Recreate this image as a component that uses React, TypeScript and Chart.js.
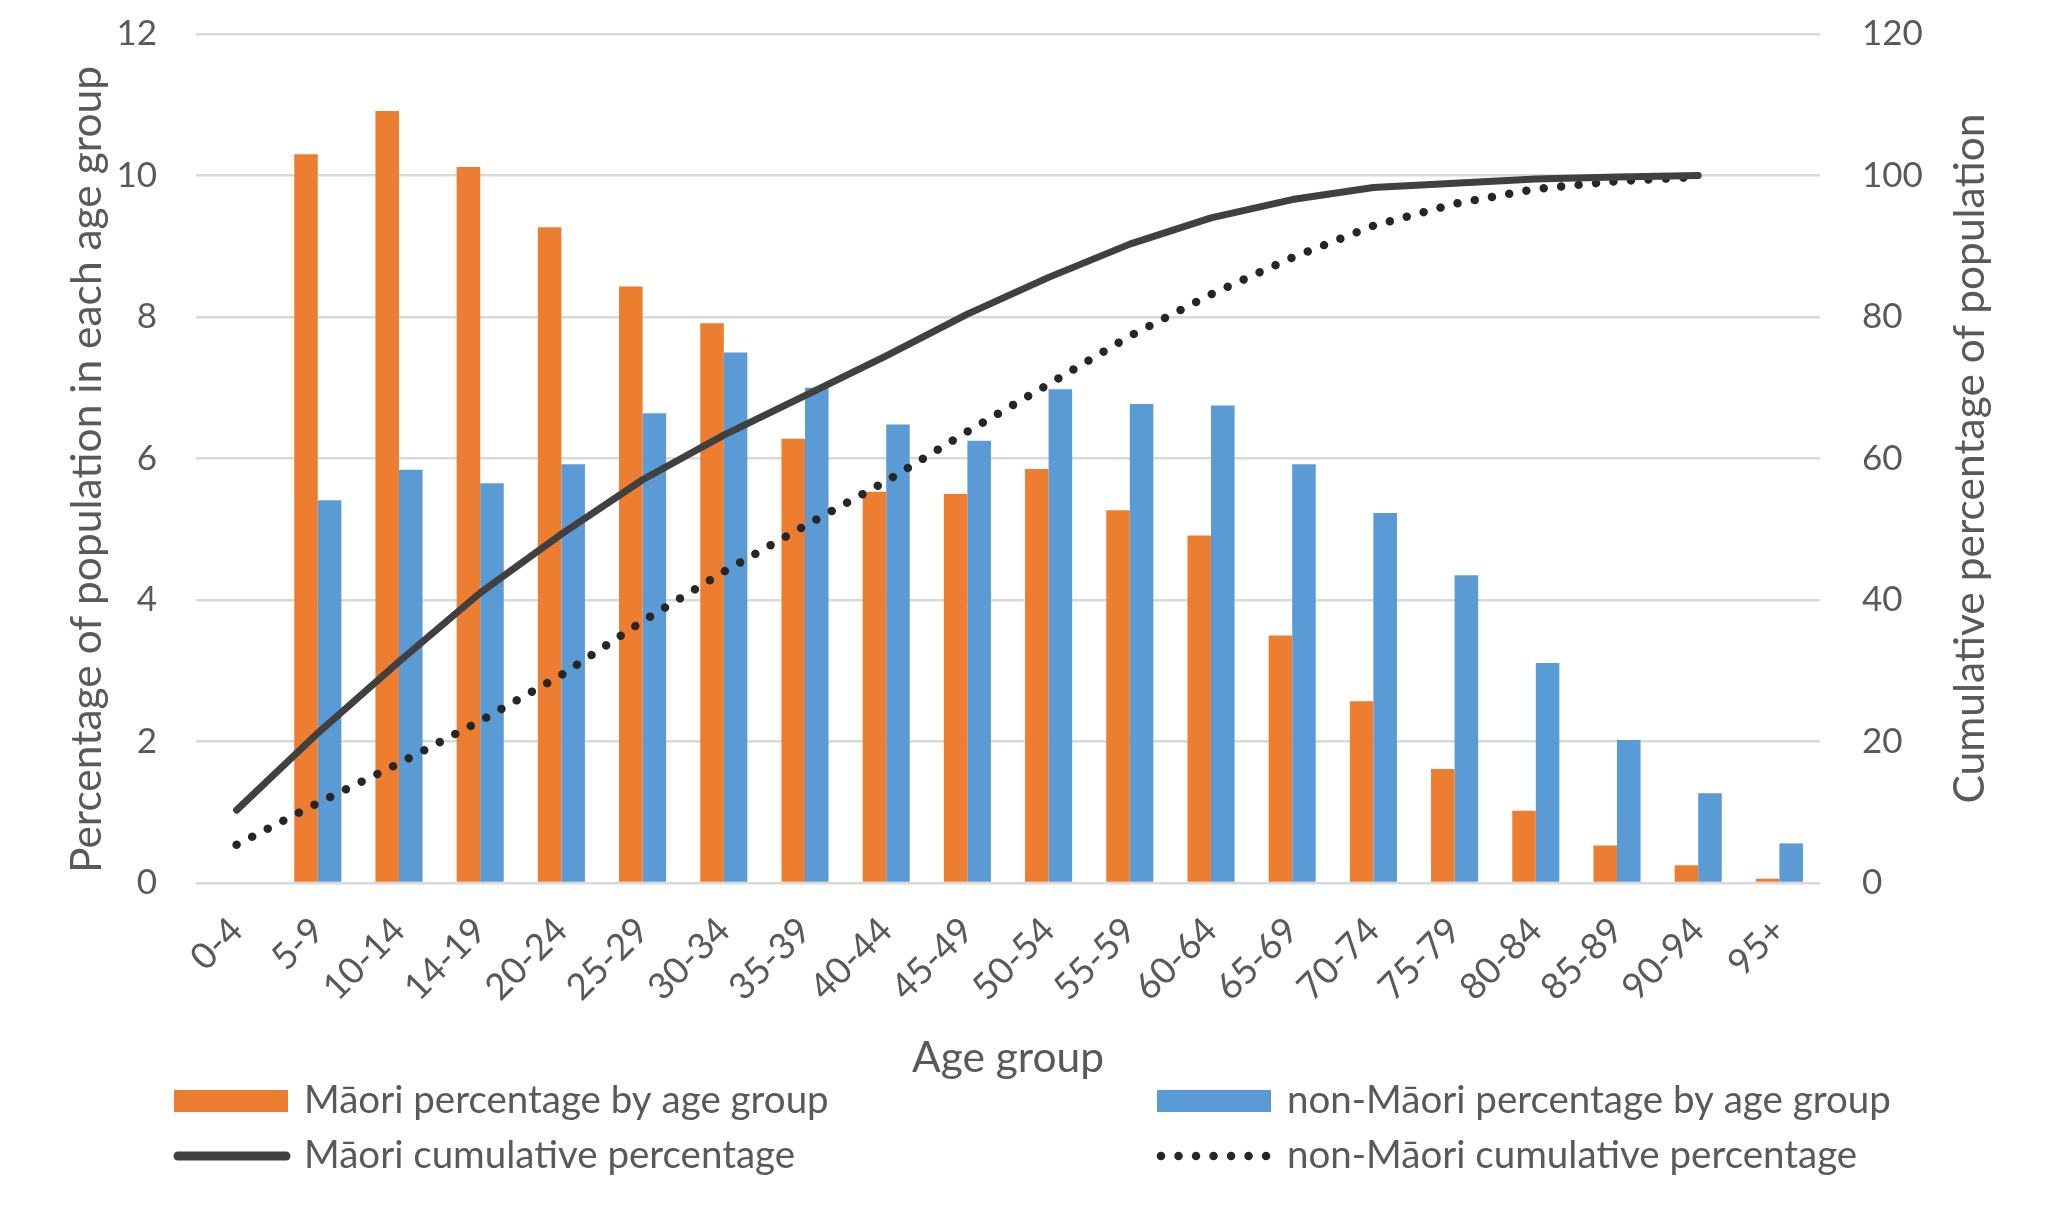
import { useEffect, useRef } from 'react';
import Chart from 'chart.js/auto';

// Age groups (the "14-19" label is as printed in the source chart)
const categories = ['0-4', '5-9', '10-14', '14-19', '20-24', '25-29', '30-34', '35-39', '40-44', '45-49',
    '50-54', '55-59', '60-64', '65-69', '70-74', '75-79', '80-84', '85-89', '90-94', '95+'];

// Percentage of population in each age group (left axis)
const maoriPct = [null, 10.30, 10.91, 10.12, 9.27, 8.43, 7.91, 6.28, 5.53, 5.50,
    5.85, 5.27, 4.91, 3.50, 2.57, 1.61, 1.02, 0.53, 0.25, 0.06];
const nonMaoriPct = [null, 5.41, 5.84, 5.65, 5.92, 6.64, 7.50, 7.00, 6.48, 6.25,
    6.98, 6.77, 6.75, 5.92, 5.23, 4.35, 3.11, 2.02, 1.27, 0.56];

// Cumulative percentage of population (right axis)
const maoriCum = [10.3, 21.2, 31.3, 41.0, 49.3, 57.0, 63.3, 68.9, 74.5, 80.4,
    85.6, 90.3, 94.0, 96.6, 98.3, 98.9, 99.5, 99.8, 100, null];
const nonMaoriCum = [5.4, 11.3, 16.9, 22.9, 29.4, 37.0, 44.0, 50.5, 56.8, 63.8,
    70.5, 77.3, 83.2, 88.4, 92.9, 96.0, 98.1, 99.2, 99.8, null];

const WIDTH = 2052;
const HEIGHT = 1227;
const TEXT = '#595959';
const FONT = "Lato, 'Noto Sans', sans-serif";
const TICK_SIZE = 35;
const XTICK_SIZE = 36.5;
const TITLE_SIZE = 42.5;
const LEGEND_SIZE = 38.5;

const LEFT_TITLE = 'Percentage of population in each age group';
const RIGHT_TITLE = 'Cumulative percentage of population';

// Legend laid out in two columns / two rows like the Excel original
const LEGEND_COLS = [174, 1157];
const LEGEND_ROWS = [1101, 1156];
const LEGEND_MARK = 114;

const drawVerticalTitle = (ctx: CanvasRenderingContext2D, text: string, x: number, y: number) => {
    ctx.save();
    ctx.translate(x, y);
    ctx.rotate(-Math.PI / 2);
    ctx.font = `${TITLE_SIZE}px ${FONT}`;
    ctx.fillStyle = TEXT;
    ctx.textAlign = 'center';
    ctx.textBaseline = 'middle';
    ctx.fillText(text, 0, 0);
    ctx.restore();
};

const legendPlugin = {
    id: 'twoColumnLegend',
    afterDraw(chart: Chart) {
        const ctx = chart.ctx;
        ctx.save();
        chart.data.datasets.forEach((ds: any, i: number) => {
            const x = LEGEND_COLS[i % 2];
            const y = LEGEND_ROWS[Math.floor(i / 2)];
            if (ds.type === 'line') {
                ctx.strokeStyle = ds.borderColor;
                ctx.lineWidth = ds.legendWidth;
                ctx.lineCap = 'round';
                ctx.setLineDash(ds.borderDash || []);
                ctx.beginPath();
                ctx.moveTo(x + 4, y);
                ctx.lineTo(x + LEGEND_MARK - 2, y);
                ctx.stroke();
                ctx.setLineDash([]);
            } else {
                ctx.fillStyle = ds.backgroundColor;
                ctx.fillRect(x, y - 11, LEGEND_MARK, 22);
            }
            ctx.fillStyle = TEXT;
            ctx.font = `${LEGEND_SIZE}px ${FONT}`;
            ctx.textBaseline = 'middle';
            ctx.textAlign = 'left';
            ctx.fillText(ds.label, x + LEGEND_MARK + 16, y);
        });
        ctx.restore();

        // both axis titles read bottom-to-top in the original
        const { top, bottom } = chart.chartArea;
        const mid = (top + bottom) / 2;
        drawVerticalTitle(ctx, LEFT_TITLE, 87, mid + 11);
        drawVerticalTitle(ctx, RIGHT_TITLE, 1970, mid);
    },
};

const App = () => {

    const chartRef = useRef<HTMLCanvasElement>(null);

    useEffect(() => {
        document.body.style.margin = '0';
        if (!chartRef.current) return;
        const ctx = chartRef.current.getContext('2d');
        if (!ctx) return;

        const myChart = new Chart(ctx, {
            type: 'bar',
            data: {
                labels: categories,
                datasets: [
                    {
                        type: 'bar',
                        label: 'Māori percentage by age group',
                        data: maoriPct,
                        backgroundColor: '#ED7D31',
                        yAxisID: 'y',
                        order: 2,
                        categoryPercentage: 0.58,
                        barPercentage: 1.0,
                    },
                    {
                        type: 'bar',
                        label: 'non-Māori percentage by age group',
                        data: nonMaoriPct,
                        backgroundColor: '#5B9BD5',
                        yAxisID: 'y',
                        order: 2,
                        categoryPercentage: 0.58,
                        barPercentage: 1.0,
                    },
                    {
                        type: 'line',
                        label: 'Māori cumulative percentage',
                        data: maoriCum,
                        borderColor: '#404040',
                        borderWidth: 7,
                        borderCapStyle: 'round',
                        borderJoinStyle: 'round',
                        pointRadius: 0,
                        tension: 0,
                        yAxisID: 'y1',
                        order: 1,
                        legendWidth: 9,
                    } as any,
                    {
                        type: 'line',
                        label: 'non-Māori cumulative percentage',
                        data: nonMaoriCum,
                        borderColor: '#262626',
                        borderWidth: 8.5,
                        borderDash: [0.01, 17.5],
                        borderCapStyle: 'round',
                        pointRadius: 0,
                        tension: 0,
                        yAxisID: 'y1',
                        order: 1,
                        legendWidth: 8.5,
                    } as any,
                ],
            },
            options: {
                animation: false,
                responsive: true,
                maintainAspectRatio: false,
                layout: {
                    padding: { top: 34, left: 0, right: 0, bottom: 0 },
                },
                plugins: {
                    legend: { display: false },
                    tooltip: { enabled: false },
                },
                scales: {
                    x: {
                        grid: { display: false, drawTicks: false },
                        border: { display: false },
                        ticks: {
                            color: TEXT,
                            font: { size: XTICK_SIZE, family: FONT },
                            minRotation: 45,
                            maxRotation: 45,
                            autoSkip: false,
                            padding: 26,
                        },
                        title: {
                            display: true,
                            text: 'Age group',
                            color: TEXT,
                            font: { size: TITLE_SIZE, family: FONT },
                            padding: { top: 0, bottom: 143 },
                        },
                        afterFit: (scale: any) => {
                            scale.height = HEIGHT - 883;
                            scale.paddingLeft = 0;
                            scale.paddingRight = 0;
                        },
                    },
                    y: {
                        position: 'left',
                        min: 0,
                        max: 12,
                        ticks: {
                            stepSize: 2,
                            color: TEXT,
                            font: { size: TICK_SIZE, family: FONT },
                            padding: 39,
                        },
                        grid: { color: '#D9D9D9', lineWidth: 2.5, drawTicks: false },
                        border: { display: false },
                        title: { display: false },
                        afterFit: (scale: any) => {
                            scale.width = 196;
                            scale.paddingTop = 0;
                            scale.paddingBottom = 0;
                        },
                    },
                    y1: {
                        position: 'right',
                        min: 0,
                        max: 120,
                        ticks: {
                            stepSize: 20,
                            color: TEXT,
                            font: { size: TICK_SIZE, family: FONT },
                            padding: 42,
                        },
                        grid: { display: false, drawTicks: false },
                        border: { display: false },
                        title: { display: false },
                        afterFit: (scale: any) => {
                            scale.width = WIDTH - 1820;
                            scale.paddingTop = 0;
                            scale.paddingBottom = 0;
                        },
                    },
                },
            },
            plugins: [legendPlugin],
        });

        return () => {
            myChart.destroy();
        };
    }, []);

    return (
        <div style={{ position: 'relative', width: WIDTH, height: HEIGHT, background: '#fff' }}>
            <canvas ref={chartRef} />
        </div>
    );
};

export default App;
